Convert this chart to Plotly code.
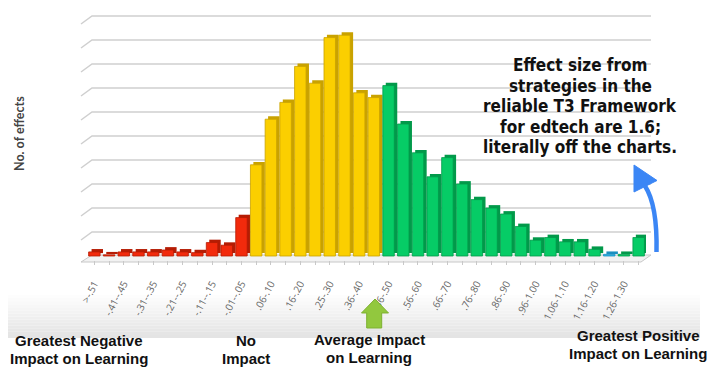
import plotly.graph_objects as go

# ---------------- data ----------------
categories = [">-.51", "-.46--.50", "-.41--.45", "-.36--.40", "-.31--.35", "-.26--.30",
              "-.21--.25", "-.16--.20", "-.11--.15", "-.06--.10", "-.01--.05",
              ".00-.05", ".06-.10", ".11-.15", ".16-.20", ".21-.25", ".25-.30",
              ".31-.35", ".36-.40", ".41-.45",
              ".46-.50", ".51-.55", ".56-.60", ".61-.65", ".66-.70", ".71-.75",
              ".76-.80", ".81-.85", ".86-.90", ".91-.95", ".96-1.00", "1.01-1.05",
              "1.06-1.10", "1.11-1.15", "1.16-1.20", "1.21-1.25", "1.26-1.30", ">1.30"]

negative_effects = [1.7, 0.5, 1.7, 1.7, 1.7, 2.5, 1.7, 1.4, 5.6, 4.5, 16]
low_effects = [38, 57, 64, 79, 72, 91, 92, 68, 66]
high_effects = [71, 55, 43, 33, 41, 30, 23.5, 20, 17.5, 12.3, 6.6, 7.7, 5.9, 5.9, 2.8, 0.7, 0.7, 7.7]

neg_cats = categories[:11]
low_cats = categories[11:20]
high_cats = categories[20:]

tick_labels = [c if i % 2 == 0 else "" for i, c in enumerate(categories)]
grid_values = [10, 20, 30, 40, 50, 60, 70, 80, 90, 100]

# ---------------- geometry helpers (page pixel coords; page body has 8px margin) ----------------
OFF = 8
W, H = 723 - OFF, 374 - OFF
L, T = 87 - OFF, 16 - OFF
R = W - (646 - OFF)
B = H - (260 - OFF)
PW, PH = W - L - R, H - T - B
YMAX = 100
YMIN = -4 / 2.4
DEPTH = 1.2      # 3D depth in value units (~3px)
BAR_W = 0.78


def xp(px):
    return (px - OFF - L) / PW


def yp(py):
    return (H - B - (py - OFF)) / PH


def vy(v):
    return OFF + T + (YMAX - v) * PH / (YMAX - YMIN)


def path(points, close=True):
    s = "M " + " L ".join(f"{xp(x):.5f},{yp(y):.5f}" for x, y in points)
    return s + (" Z" if close else "")


fig = go.Figure()

groups = [
    (neg_cats, negative_effects, ["#f22a0c"] * 11, ["#b51c04"] * 11),
    (low_cats, low_effects, ["#fbcf00"] * 9, ["#c9a200"] * 9),
]
high_colors = ["#06cc66"] * len(high_cats)
high_colors[15] = "#2ab3e6"
high_sides = ["#02994a"] * len(high_cats)
high_sides[15] = "#1a8fbf"
groups.append((high_cats, high_effects, high_colors, high_sides))

# 3D side/top (behind)
for cats, vals, cols, sides in groups:
    fig.add_trace(go.Bar(x=cats, y=vals, base=DEPTH, width=BAR_W, offset=-BAR_W / 2 + 0.2,
                         marker=dict(color=sides, line=dict(width=0)), hoverinfo="skip"))
# front faces
for cats, vals, cols, sides in groups:
    fig.add_trace(go.Bar(x=cats, y=vals, width=BAR_W, offset=-BAR_W / 2,
                         marker=dict(color=cols, line=dict(color=sides, width=0.8))))

shapes = []
# bottom gray gradient band
n = 14
y0, y1 = 295, 338
for i in range(n):
    a = y0 + (y1 - y0) * i / n
    b = y0 + (y1 - y0) * (i + 1) / n
    g = int(255 - (255 - 228) * (i + 1) / n)
    shapes.append(dict(type="rect", xref="paper", yref="paper", x0=xp(0), x1=xp(700),
                       y0=yp(b), y1=yp(a), fillcolor=f"rgb({g},{g},{g})",
                       line=dict(width=0), layer="below"))

# gridlines with 3D stub
for v in grid_values:
    gy = vy(v)
    shapes.append(dict(type="path", xref="paper", yref="paper",
                       path=path([(81, gy + 8), (92, gy), (651, gy)], close=False),
                       line=dict(color="#cfcfcf", width=1.5), layer="below"))
# floor
shapes.append(dict(type="path", xref="paper", yref="paper",
                   path=path([(81, 262), (641, 262), (651, 255), (92, 255)]),
                   fillcolor="#f2f2f2", line=dict(color="#c8c8c8", width=1), layer="below"))

# green arrow (average impact)
shapes.append(dict(type="path", xref="paper", yref="paper",
                   path=path([(366.7, 328), (381.7, 328), (381.7, 313), (388.5, 313),
                              (375, 299), (361.5, 313), (366.7, 313)]),
                   fillcolor="#92c83e", line=dict(color="#7db030", width=1)))

# blue curved arrow
shapes.append(dict(type="path", xref="paper", yref="paper",
                   path=f"M {xp(656.5):.5f},{yp(252):.5f} Q {xp(657.5):.5f},{yp(205):.5f} {xp(645):.5f},{yp(186):.5f}",
                   line=dict(color="#3b86f5", width=4.5)))
shapes.append(dict(type="path", xref="paper", yref="paper",
                   path=path([(634, 165), (657, 180.5), (634, 192)]),
                   fillcolor="#3b86f5", line=dict(color="#3b86f5", width=1)))

annotations = []
# y title
annotations.append(dict(text="<b>No. of effects</b>", x=xp(19), y=yp(134), xref="paper", yref="paper",
                        showarrow=False, textangle=-90, xanchor="center", yanchor="middle",
                        font=dict(family="Lato, Open Sans, sans-serif", size=12.5, color="#444")))

# bottom labels (one annotation per line)
bottom = [("Greatest Negative", 78.5, 340.7), ("Impact on Learning", 78.5, 358),
          ("No", 246, 340.5), ("Impact", 246, 358),
          ("Average Impact", 369, 339.5), ("on Learning", 369, 357.5),
          ("Greatest Positive", 638, 335.7), ("Impact on Learning", 638, 353.3)]
for txt, x, y in bottom:
    annotations.append(dict(text=f"<b>{txt}</b>", x=xp(x), y=yp(y), xref="paper", yref="paper",
                            showarrow=False, xanchor="center", yanchor="middle",
                            font=dict(family="Liberation Sans, Arial, sans-serif", size=15, color="#111")))

# callout text
callout = ["Effect size from", "strategies in the", "reliable T3 Framework",
           "for edtech are 1.6;", "literally off the charts."]
for i, txt in enumerate(callout):
    annotations.append(dict(text=f"<b>{txt}</b>", x=xp(580), y=yp(65 + 20.6 * i), xref="paper", yref="paper",
                            showarrow=False, xanchor="center", yanchor="middle",
                            font=dict(family="Liberation Sans Narrow, DejaVu Sans Condensed, sans-serif",
                                      size=17, color="#111")))

fig.update_layout(
    width=W, height=H, autosize=False,
    margin=dict(l=L, r=R, t=T, b=B, pad=0),
    paper_bgcolor="white", plot_bgcolor="rgba(0,0,0,0)",
    showlegend=False, barmode="overlay",
    shapes=shapes, annotations=annotations,
    xaxis=dict(type="category", categoryorder="array", categoryarray=categories,
               range=[-0.5, len(categories) - 0.5], automargin=False,
               tickmode="array", tickvals=categories, ticktext=tick_labels,
               tickangle=-62, ticks="outside", ticklen=4, tickcolor="#c8c8c8",
               ticklabelstandoff=9,
               tickfont=dict(family="Open Sans, sans-serif", size=10, color="#666"),
               showline=False, showgrid=False, zeroline=False, fixedrange=True),
    yaxis=dict(range=[YMIN, YMAX], showgrid=False, zeroline=False, showticklabels=False,
               ticks="", showline=False, automargin=False, fixedrange=True),
)

fig.write_html("out.html")
